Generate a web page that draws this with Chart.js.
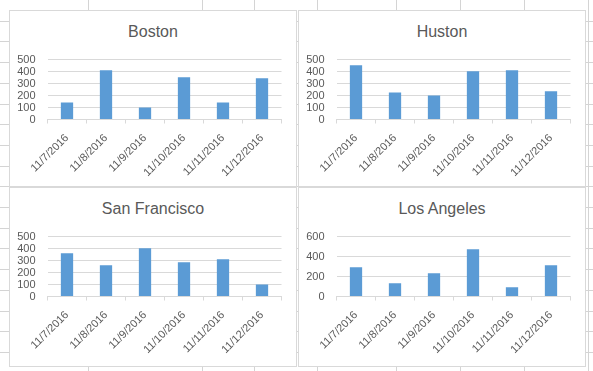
<!DOCTYPE html>
<html>
<head>
<meta charset="utf-8">
<title>City sales</title>
<script src="https://cdn.jsdelivr.net/npm/chart.js@4/dist/chart.umd.min.js"></script>
<style>
	html, body { margin:0; padding:0; background:#fff; }
	body { width:593px; height:371px; position:relative; overflow:hidden; font-family:"Liberation Sans", Arial, sans-serif; }
	.gl { position:absolute; background:#d4d4d4; }
	.box { position:absolute; box-sizing:border-box; border:1px solid #d9d9d9; background:#fff; }
	.box canvas { position:absolute; left:0; top:0; }
	.box .ttl { position:absolute; left:0; right:0; top:11px; text-align:center; font-size:16px; line-height:19px; color:#595959; }
</style>
</head>
<body>

<div class="box" id="b1" style="left:9px;top:10px;width:288px;height:177px;"><div class="ttl">Boston</div><canvas id="c1" width="286" height="175"></canvas></div>
<div class="box" id="b2" style="left:298px;top:10px;width:288px;height:177px;"><div class="ttl">Huston</div><canvas id="c2" width="286" height="175"></canvas></div>
<div class="box" id="b3" style="left:9px;top:187px;width:288px;height:180px;"><div class="ttl">San Francisco</div><canvas id="c3" width="286" height="178"></canvas></div>
<div class="box" id="b4" style="left:298px;top:187px;width:288px;height:180px;"><div class="ttl">Los Angeles</div><canvas id="c4" width="286" height="178"></canvas></div>

<script>
// data
var dates = ["11/7/2016", "11/8/2016", "11/9/2016", "11/10/2016", "11/11/2016", "11/12/2016"];
var boston = [142, 411, 100, 352, 142, 344];
var huston = [452, 226, 201, 402, 411, 235];
var sanFrancisco = [360, 260, 402, 285, 310, 100];
var losAngeles = [293, 133, 233, 473, 93, 313];
var yMax = [500, 500, 500, 600];
var yStep = [100, 100, 100, 200];

// sheet grid in the background
(function(){
	var cols = [88, 202, 254, 317, 396, 460, 524, 588];
	cols.forEach(function(x){
		var d = document.createElement('div');
		d.className = 'gl';
		d.style.cssText = 'left:' + x + 'px;top:0;width:1px;height:371px;';
		document.body.insertBefore(d, document.body.firstChild);
	});
	for (var i = 1; i * 20.7 < 371; i++) {
		var d = document.createElement('div');
		d.className = 'gl';
		d.style.cssText = 'left:0;top:' + Math.round(i * 20.7) + 'px;width:593px;height:1px;';
		document.body.insertBefore(d, document.body.firstChild);
	}
})();

function makeChart(id, values, max, step){
	var canvas = document.getElementById(id);
	var ctx = canvas.getContext('2d');
	var h = canvas.height;
	return new Chart(ctx, {
		type:'bar',
		data:{
			labels:dates,
			datasets:[{
				data:values,
				backgroundColor:'#5b9bd5',
				categoryPercentage:1,
				barPercentage:0.315
			}]
		},
		options:{
			responsive:false,
			animation:false,
			layout:{ padding:{ top:48.5, right:14.5, left:0, bottom:0 } },
			plugins:{
				legend:{ display:false },
				tooltip:{ enabled:false }
			},
			scales:{
				x:{
					offset:true,
					grid:{ offset:true, drawOnChartArea:false, drawTicks:true, tickLength:4, color:'#d9d9d9' },
					border:{ display:true, color:'#d9d9d9' },
					ticks:{
						color:'#595959',
						font:{ family:'"Liberation Sans", Arial, sans-serif', size:11 },
						minRotation:45,
						maxRotation:45,
						autoSkip:false,
						padding:8
					},
					afterFit:function(s){ s.height = h - 108.5; }
				},
				y:{
					min:0,
					max:max,
					grid:{ drawTicks:false, color:'#d9d9d9' },
					border:{ display:false },
					ticks:{
						stepSize:step,
						autoSkip:false,
						color:'#595959',
						font:{ family:'"Liberation Sans", Arial, sans-serif', size:11, lineHeight:1 },
						padding:12
					},
					afterFit:function(s){ s.width = 37.5; }
				}
			}
		}
	});
}

makeChart('c1', boston, yMax[0], yStep[0]);
makeChart('c2', huston, yMax[1], yStep[1]);
makeChart('c3', sanFrancisco, yMax[2], yStep[2]);
makeChart('c4', losAngeles, yMax[3], yStep[3]);
</script>
</body>
</html>
